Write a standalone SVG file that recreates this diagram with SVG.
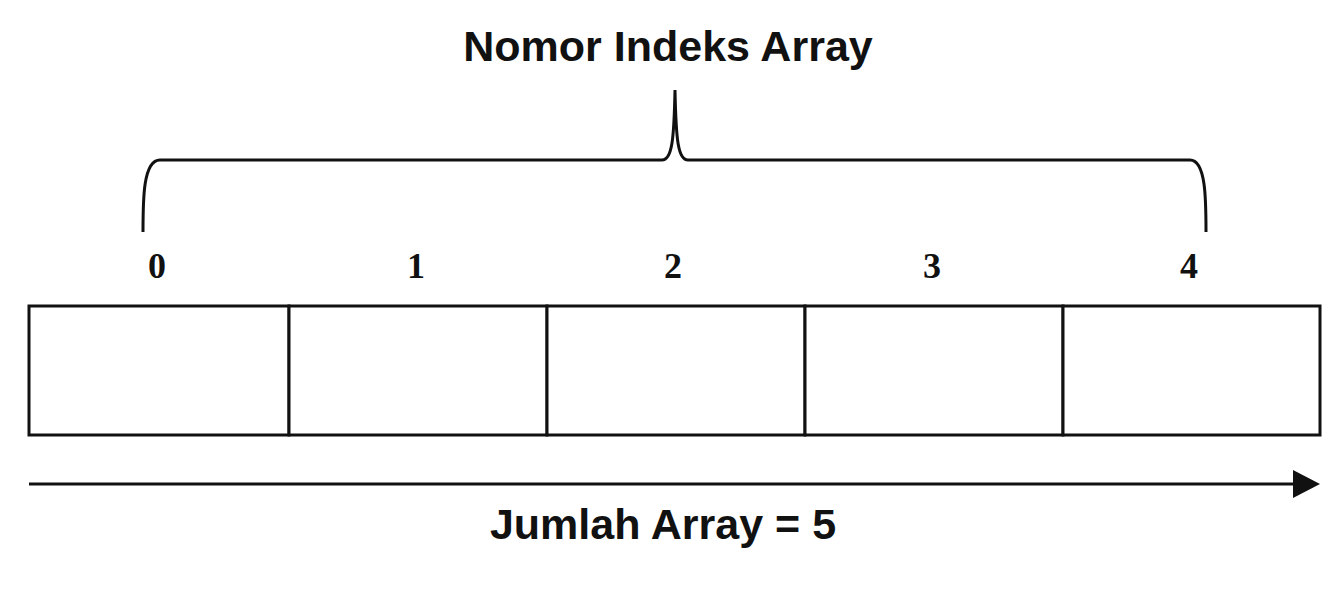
<svg xmlns="http://www.w3.org/2000/svg" width="1338" height="591" viewBox="0 0 1338 591">
<style>
.t{font-family:"Liberation Sans",Arial,sans-serif;font-weight:bold;font-size:43px;fill:#111;text-anchor:middle}
.n{font-family:"Liberation Serif","Times New Roman",serif;font-weight:bold;font-size:36px;fill:#111;text-anchor:middle}
.c{fill:#fff;stroke:#111;stroke-width:3}
.l{fill:none;stroke:#111;stroke-width:3}
</style>
<rect width="1338" height="591" fill="#fff"/>
<text class="t" x="668" y="61">Nomor Indeks Array</text>
<g id="brace"><path class="l" d="M143,232 C143,200 143,160 160,160 L662,160 C672,160 674,140 675,90 C676,140 678,160 688,160 L1190,160 C1206,160 1206,200 1206,232"/></g>
<g id="cell0"><rect class="c" x="29" y="306" width="260" height="129"/><text class="n" x="157" y="278">0</text></g>
<g id="cell1"><rect class="c" x="289" y="306" width="258" height="129"/><text class="n" x="416" y="278">1</text></g>
<g id="cell2"><rect class="c" x="547" y="306" width="258" height="129"/><text class="n" x="673" y="278">2</text></g>
<g id="cell3"><rect class="c" x="805" y="306" width="258" height="129"/><text class="n" x="932" y="278">3</text></g>
<g id="cell4"><rect class="c" x="1063" y="306" width="257" height="129"/><text class="n" x="1189" y="278">4</text></g>
<g id="connectors"><line class="l" x1="29" y1="484" x2="1295" y2="484"/><path d="M1293,470 L1320,484 L1293,498 z" fill="#111"/></g>
<text class="t" x="663" y="539">Jumlah Array = 5</text>
</svg>
